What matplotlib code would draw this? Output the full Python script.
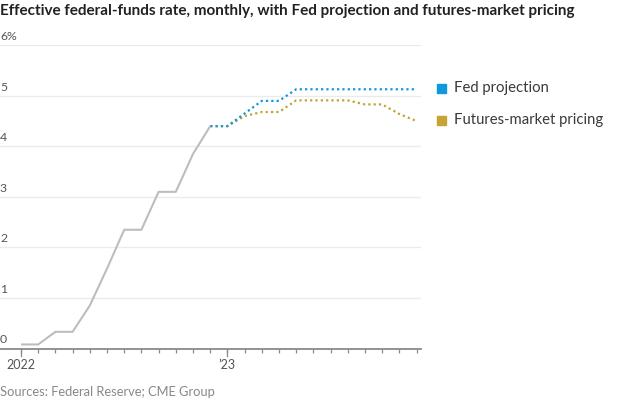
import matplotlib
matplotlib.use("Agg")
from matplotlib import pyplot as plt
from matplotlib.patches import Rectangle

# monthly index: 0 = Jan 2022, 23 = Dec 2023
actual_months = list(range(0, 12))
actual_rate = [0.08, 0.08, 0.33, 0.33, 0.85, 1.58, 2.35, 2.35, 3.10, 3.10, 3.85, 4.40]

proj_months = list(range(11, 24))
fed_projection = [4.40, 4.40, 4.65, 4.90, 4.90, 5.13, 5.13, 5.13, 5.13, 5.13, 5.13, 5.13, 5.13]
futures_pricing = [4.40, 4.40, 4.60, 4.68, 4.68, 4.91, 4.91, 4.91, 4.91, 4.83, 4.83, 4.64, 4.50]

y_ticks = [0, 1, 2, 3, 4, 5, 6]
y_labels = ["0", "1", "2", "3", "4", "5", "6%"]
x_ticks = [0, 12]
x_labels = ["2022", "\u201923"]

GRAY = "#bdbdbd"
BLUE = "#0f98dc"
GOLD = "#c6a333"
TEXT = "#555555"

plt.rcParams["font.family"] = ["Lato", "DejaVu Sans"]

fig = plt.figure(figsize=(6.2, 4.0), dpi=100)
ax = fig.add_axes([0, 1 - 348.5 / 400, 421 / 620, (348.5 - 45.3) / 400])

px = 17.2  # pixels per month
ax.set_xlim(-21 / px, (421 - 21) / px)
ax.set_ylim(0, 6)

for y in y_ticks[1:]:
    ax.axhline(y, color="#ebebeb", lw=1.0, zorder=0)

ax.plot(actual_months, actual_rate, color=GRAY, lw=1.5, solid_capstyle="butt", zorder=3)
ax.plot(proj_months, futures_pricing, color=GOLD, lw=1.6, ls=(0, (1, 1.4)), zorder=2)
ax.plot(proj_months, fed_projection, color=BLUE, lw=1.6, ls=(0, (1, 1.4)), zorder=2.5)

for s in ["top", "right", "left"]:
    ax.spines[s].set_visible(False)
ax.spines["bottom"].set_color("#8a8a8a")
ax.spines["bottom"].set_linewidth(1.3)

ax.set_yticks([])
ax.set_xticks(range(0, 24))
ax.set_xticklabels(["" for _ in range(24)])
ax.tick_params(axis="x", length=3, width=0.9, color="#8a8a8a", direction="out")

# year labels under the axis
xtr = ax.get_xaxis_transform()
for x, lab in zip(x_ticks, x_labels):
    ax.plot([x, x], [0, -0.025], transform=xtr, color="#8a8a8a", lw=0.9, clip_on=False)
    ax.text(x, -0.035, lab, transform=xtr, ha="center", va="top",
            fontsize=9, color=TEXT)

tr = ax.get_yaxis_transform()
for y, lab in zip(y_ticks, y_labels):
    ax.text(0.0, y + 0.06, lab, transform=tr, ha="left", va="bottom",
            fontsize=8.8, color=TEXT)

fig.text(0.0, 1 - 11 / 400, "Effective federal-funds rate, monthly, with Fed projection and futures-market pricing",
         ha="left", va="center", fontsize=11, fontweight="bold", color="#222222")
fig.text(0.0, 1 - 392 / 400, "Sources: Federal Reserve; CME Group",
         ha="left", va="center", fontsize=9.3, color="#888888")

# legend
for yy, col, lab in [(88, BLUE, "Fed projection"), (120, GOLD, "Futures-market pricing")]:
    fig.patches.append(Rectangle((437 / 620, 1 - (yy + 4.5) / 400), 9 / 620, 9 / 400,
                                 transform=fig.transFigure, color=col))
    fig.text(454 / 620, 1 - yy / 400, lab, ha="left", va="center", fontsize=10.7, color="#3a3a3a")

fig.savefig("out.png", dpi=100)
